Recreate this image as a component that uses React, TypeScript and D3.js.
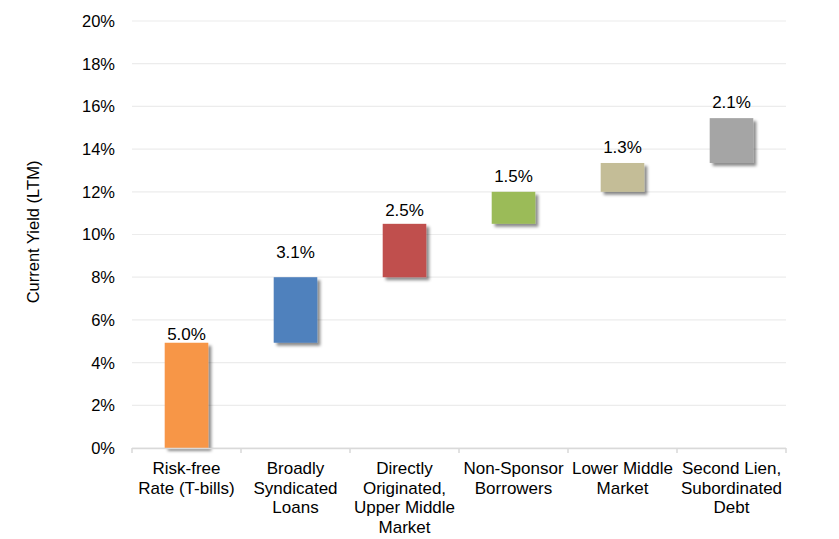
import * as React from "react";
import { scaleBand, scaleLinear, range } from "d3";

// categories, increments (%) and label text
const categories = [
    ["Risk-free", "Rate (T-bills)"],
    ["Broadly", "Syndicated", "Loans"],
    ["Directly", "Originated,", "Upper Middle", "Market"],
    ["Non-Sponsor", "Borrowers"],
    ["Lower Middle", "Market"],
    ["Second Lien,", "Subordinated", "Debt"]
];
const increments = [4.93, 3.07, 2.5, 1.5, 1.35, 2.1];
const valueLabels = ["5.0%", "3.1%", "2.5%", "1.5%", "1.3%", "2.1%"];
const colors = ["#F79646", "#4F81BD", "#C0504D", "#9BBB59", "#C4BD97", "#A5A5A5"];
const yTicks = [0, 2, 4, 6, 8, 10, 12, 14, 16, 18, 20];
// gap (px) between bar top and its label, as placed in the original
const labelGaps = [3, 19, 8, 10, 10, 10];

const W = 839;
const H = 539;
const margin = { left: 132, right: 53, top: 21, bottom: 91 };
const font = "'Liberation Sans', Arial, sans-serif";

function App() {
    const xScale = scaleBand<number>()
        .domain(range(categories.length))
        .range([margin.left, W - margin.right])
        .paddingInner(0.6)
        .paddingOuter(0.3);
    const step = xScale.step();
    const x0 = margin.left;

    const yScale = scaleLinear()
        .domain([0, 20])
        .range([H - margin.bottom, margin.top]);

    // waterfall stacks
    let acc = 0;
    const bars = increments.map((v, i) => {
        const start = acc;
        acc += v;
        return { i, start, end: acc };
    });

    const baseY = yScale(0);

    return (
        <svg width={W} height={H} style={{ position: "absolute", left: 0, top: 0, background: "#fff" }}>
            <defs>
                <filter id="shadow" x="-20%" y="-20%" width="150%" height="150%">
                    <feDropShadow dx="3" dy="3" stdDeviation="1.5" floodColor="#000" floodOpacity="0.45" />
                </filter>
            </defs>

            {/* gridlines */}
            {yTicks.map(t => (
                <line key={t} x1={x0} x2={W - margin.right} y1={yScale(t)} y2={yScale(t)}
                    stroke="#ececec" strokeWidth={1.2} />
            ))}

            {/* y tick labels */}
            {yTicks.map(t => (
                <text key={t} x={115} y={yScale(t)} dy="0.36em" textAnchor="end"
                    fontFamily={font} fontSize={16.5} fill="#000">{t}%</text>
            ))}

            {/* y title */}
            <text transform={`translate(39, 232) rotate(-90)`} textAnchor="middle"
                fontFamily={font} fontSize={16.5} fill="#000">Current Yield (LTM)</text>

            {/* bars */}
            {bars.map(b => (
                <rect key={b.i} x={xScale(b.i)} width={xScale.bandwidth()}
                    y={yScale(b.end)} height={yScale(b.start) - yScale(b.end)}
                    fill={colors[b.i]} filter="url(#shadow)" />
            ))}

            {/* value labels */}
            {bars.map(b => (
                <text key={b.i} x={(xScale(b.i) as number) + xScale.bandwidth() / 2}
                    y={yScale(b.end) - labelGaps[b.i]}
                    textAnchor="middle" fontFamily={font} fontSize={17} fill="#000">{valueLabels[b.i]}</text>
            ))}

            {/* x axis */}
            <line x1={x0} x2={W - margin.right} y1={baseY + 0.5} y2={baseY + 0.5} stroke="#d9d9d9" strokeWidth={1.5} />
            {range(categories.length + 1).map(i => (
                <line key={i} x1={x0 + i * step} x2={x0 + i * step} y1={baseY} y2={baseY + 5}
                    stroke="#d9d9d9" strokeWidth={1.5} />
            ))}

            {/* category labels */}
            {categories.map((lines, i) => (
                <text key={i} textAnchor="middle" fontFamily={font} fontSize={17} fill="#000">
                    {lines.map((l, j) => (
                        <tspan key={j} x={(xScale(i) as number) + xScale.bandwidth() / 2} y={baseY + 26 + j * 19.5}>{l}</tspan>
                    ))}
                </text>
            ))}
        </svg>
    );
}

export default App;
